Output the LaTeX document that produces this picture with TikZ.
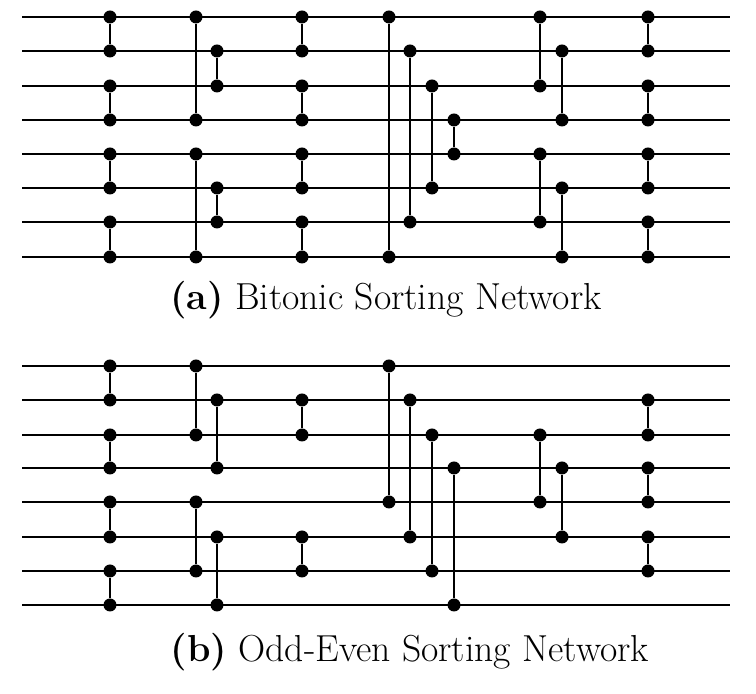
\documentclass[tikz,border=0pt]{standalone}
\usepackage{tikz}
\usetikzlibrary{positioning}

\begin{document}
\begin{tikzpicture}[x=0.5pt, y=-0.5pt, font=\fontsize{18.8}{22}\selectfont]
		\tikzset{wire/.style = {line width=1.2pt}}
		\tikzset{dot/.style = {circle, fill=black, inner sep=0pt, minimum size=6.5pt}}
		\tikzset{link/.style = {line width=0.8pt}}
		
		\useasboundingbox (0,0) rectangle (756,694);
		
		% Wires of both networks
		\foreach \i/\y in {0/17,1/51,2/86,3/120,4/154,5/188,6/222,7/257} {
			\coordinate (aL\i) at (22,\y);
			\coordinate (aR\i) at (730,\y);
			\draw [wire] (aL\i) -- (aR\i);
		}
		\foreach \i/\y in {0/366,1/400,2/435,3/468,4/502,5/537,6/571,7/605} {
			\coordinate (bL\i) at (22,\y);
			\coordinate (bR\i) at (730,\y);
			\draw [wire] (bL\i) -- (bR\i);
		}
		
		% Comparators of the bitonic network
		\foreach \x/\p/\q [count=\k] in {110/0/1,110/2/3,110/4/5,110/6/7,
			196/0/3,196/4/7,217/1/2,217/5/6,
			302/0/1,302/2/3,302/4/5,302/6/7,
			389/0/7,410/1/6,432/2/5,454/3/4,
			540/0/2,540/4/6,562/1/3,562/5/7,
			648/0/1,648/2/3,648/4/5,648/6/7} {
			\node (a\k t) [dot] at (\x,0 |- aL\p) {};
			\node (a\k b) [dot] at (\x,0 |- aL\q) {};
			\draw [link] (a\k t) -- (a\k b);
		}
		
		% Comparators of the odd-even network
		\foreach \x/\p/\q [count=\k] in {110/0/1,110/2/3,110/4/5,110/6/7,
			196/0/2,196/4/6,217/1/3,217/5/7,
			302/1/2,302/5/6,
			389/0/4,410/1/5,432/2/6,454/3/7,
			540/2/4,562/3/5,
			648/1/2,648/3/4,648/5/6} {
			\node (b\k t) [dot] at (\x,0 |- bL\p) {};
			\node (b\k b) [dot] at (\x,0 |- bL\q) {};
			\draw [link] (b\k t) -- (b\k b);
		}
		
		% Captions
		\node (capa) at (386,300) {\textbf{(a)} Bitonic Sorting Network};
		\node (capb) at (410,652) {\textbf{(b)} Odd-Even Sorting Network};
	\end{tikzpicture}
\end{document}
